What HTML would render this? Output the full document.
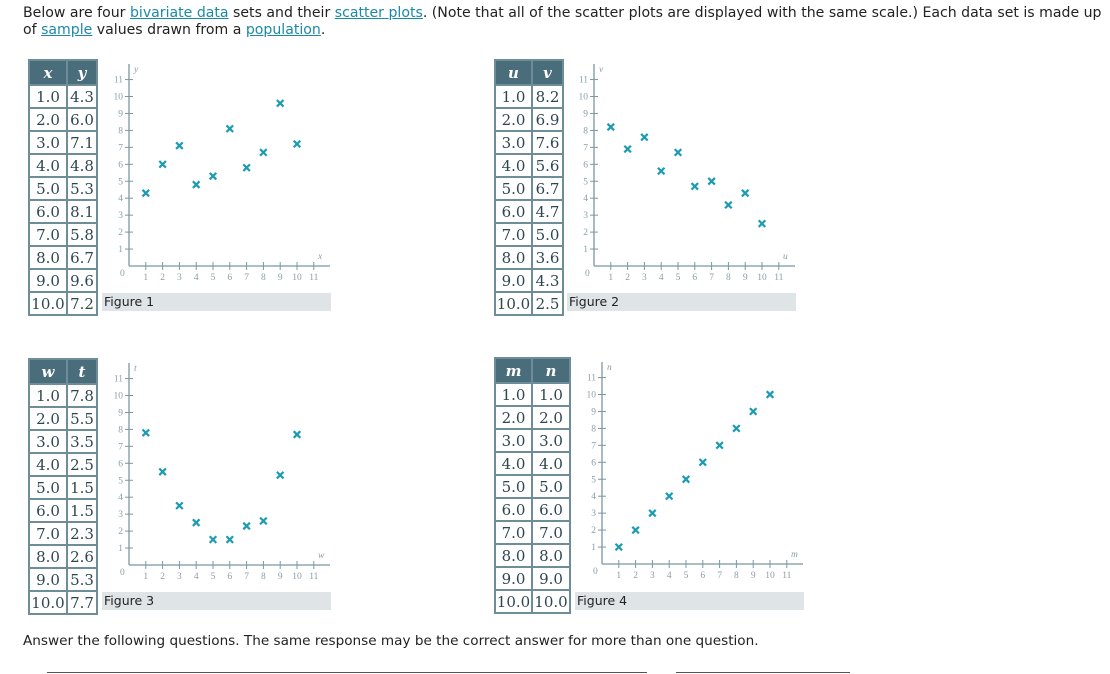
<!DOCTYPE html>
<html><head><meta charset="utf-8">
<style>
body{margin:0;width:1110px;height:674px;background:#fff;position:relative;overflow:hidden;font-family:"DejaVu Sans","Liberation Sans",sans-serif;}
.intro{position:absolute;left:23px;top:5px;font-size:14.1px;line-height:17px;color:#222;width:1085px;}
.intro a{color:#1a8aa8;text-decoration:underline;}
.tb{position:absolute;font-family:"DejaVu Serif","Liberation Serif",serif;font-size:15px;color:#2e4650;}
.c{position:absolute;box-sizing:border-box;border:1px solid #6f8d98;text-align:center;background:#fff;}
.h{background:#4a6d7b;color:#fff;font-style:italic;font-weight:bold;}
.cap{position:absolute;background:#dfe5e7;font-size:12.5px;color:#222;height:18px;line-height:18px;padding-left:2px;box-sizing:border-box;}
svg{position:absolute;left:0;top:0;}
.ans{position:absolute;left:23px;top:633px;font-size:13.6px;color:#222;}
.ln{position:absolute;top:672px;height:1px;background:#555;}
</style></head><body>
<div class="intro">Below are four <a>bivariate data</a> sets and their <a>scatter plots</a>. (Note that all of the scatter plots are displayed with the same scale.) Each data set is made up of <a>sample</a> values drawn from a <a>population</a>.</div>
<div id="root"></div>
<svg id="svg" width="1110" height="674"></svg>
<div class="ans">Answer the following questions. The same response may be the correct answer for more than one question.</div>
<div class="ln" style="left:47px;width:600px"></div>
<div class="ln" style="left:676px;width:174px"></div>
<script>
const xs=[1,2,3,4,5,6,7,8,9,10];
const y1=[4.3,6.0,7.1,4.8,5.3,8.1,5.8,6.7,9.6,7.2];
const y2=[8.2,6.9,7.6,5.6,6.7,4.7,5.0,3.6,4.3,2.5];
const y3=[7.8,5.5,3.5,2.5,1.5,1.5,2.3,2.6,5.3,7.7];
const y4=[1.0,2.0,3.0,4.0,5.0,6.0,7.0,8.0,9.0,10.0];
const ticks=[1,2,3,4,5,6,7,8,9,10,11];
const figs=[
 {n:1,xv:'x',yv:'y',ys:y1,tx:28,ty:59,c1:38,c2:30,ox:129,oy:266,cx:102,cw:229,cy:293},
 {n:2,xv:'u',yv:'v',ys:y2,tx:494,ty:59,c1:37,c2:31,ox:594,oy:266,cx:567,cw:229,cy:293},
 {n:3,xv:'w',yv:'t',ys:y3,tx:28,ty:358,c1:38,c2:30,ox:129,oy:565,cx:102,cw:229,cy:592},
 {n:4,xv:'m',yv:'n',ys:y4,tx:494,ty:357,c1:37,c2:38,ox:602,oy:564,cx:575,cw:229,cy:592}
];
const NS='http://www.w3.org/2000/svg';
const svg=document.getElementById('svg');const root=document.getElementById('root');
function el(t,a,p){const e=document.createElementNS(NS,t);for(const k in a)e.setAttribute(k,a[k]);(p||svg).appendChild(e);return e;}
function cell(parent,x,y,w,h,txt,cls){const d=document.createElement('div');d.className='c '+(cls||'');d.style.cssText=`left:${x}px;top:${y}px;width:${w}px;height:${h}px;line-height:${h-2}px;border-width:2px;`;d.textContent=txt;parent.appendChild(d);return d;}
const U=16.8,V=16.95;
figs.forEach(f=>{
 const sx=v=>f.ox+v*U, sy=v=>f.oy-v*V;
 const tb=document.createElement('div');tb.className='tb';tb.style.left=f.tx+'px';tb.style.top=f.ty+'px';
 
 
 cell(tb,0,0,f.c1+2,27,f.xv,'h');cell(tb,f.c1,0,f.c2+2,27,f.yv,'h');
 xs.forEach((x,i)=>{const y=25+i*23;cell(tb,0,y,f.c1+2,25,x.toFixed(1));cell(tb,f.c1,y,f.c2+2,25,f.ys[i].toFixed(1));});
 root.appendChild(tb);
 const cap=document.createElement('div');cap.className='cap';cap.textContent='Figure '+f.n;
 cap.style.left=f.cx+'px';cap.style.top=f.cy+'px';cap.style.width=f.cw+'px';
 
 
 root.appendChild(cap);
 const g=el('g',{});
 
 
 el('line',{x1:f.ox,y1:f.oy,x2:f.ox+201,y2:f.oy,stroke:'#7b98a2','stroke-width':1.3},g);
 el('line',{x1:f.ox,y1:f.oy,x2:f.ox,y2:f.oy-202,stroke:'#7b98a2','stroke-width':1.3},g);
 ticks.forEach(t=>{
  el('line',{x1:sx(t),y1:f.oy-4,x2:sx(t),y2:f.oy+4,stroke:'#7b98a2'},g);
  el('line',{x1:f.ox-4,y1:sy(t),x2:f.ox+4,y2:sy(t),stroke:'#7b98a2'},g);
  const a=el('text',{x:sx(t),y:f.oy+14,'font-size':9.5,fill:'#8a9ea6','text-anchor':'middle','font-family':'Liberation Serif,serif'},g);a.textContent=t;
  const b=el('text',{x:f.ox-6,y:sy(t)+3,'font-size':9.5,fill:'#8a9ea6','text-anchor':'end','font-family':'Liberation Serif,serif'},g);b.textContent=t;
 });
 const z=el('text',{x:f.ox-9,y:f.oy+10,'font-size':9.5,fill:'#8a9ea6','font-family':'Liberation Serif,serif'},g);z.textContent='0';
 const xl=el('text',{x:f.ox+189,y:f.oy-7,'font-size':9.5,fill:'#8a9ea6','font-style':'italic','font-family':'Liberation Serif,serif'},g);xl.textContent=f.xv;
 const yl=el('text',{x:f.ox+5,y:f.oy-194,'font-size':9.5,fill:'#8a9ea6','font-style':'italic','font-family':'Liberation Serif,serif'},g);yl.textContent=f.yv;
 xs.forEach((x,i)=>{
  const px=sx(x),py=sy(f.ys[i]),d=3.3;
  const m=el('path',{d:`M${px-d},${py-d}L${px+d},${py+d}M${px+d},${py-d}L${px-d},${py+d}`,stroke:'#1a9ab3','stroke-width':2.2},g);
  
  
 });
});
</script>
</body></html>
